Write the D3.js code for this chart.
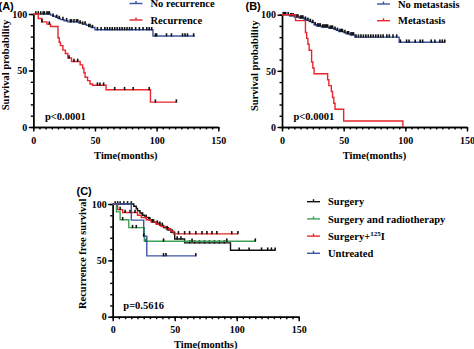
<!DOCTYPE html>
<html>
<head>
<meta charset="utf-8">
<script src="https://cdn.jsdelivr.net/npm/d3@7"></script>
<style>
  body { margin: 0; background: #fff; }
  svg { display: block; }
</style>
</head>
<body>
<svg id="fig" width="474" height="349"></svg>
<script>
// Kaplan-Meier steps: [time (months), survival %], plus last follow-up time and censored times

// (A) recurrence
const noRecurSteps = [[0,100],[14,99],[16,98],[18,97],[20,96],[22,95],[25,94],[28,93],[37,92],[40,91],[43,90],[45,89],[47,88],[50,86],[97,80.5]];
const noRecurEnd = 131;
const noRecurCens = [2,4,6,8,9,11,12,13,16,19,21,24,27,30,31,33,35,36,38,40,42,45,46,48,52,55,58,60,62,64,66,68,70,72,74,76,78,80,83,86,89,92,94,96,99,100,108,112,121,123,125,130];
const recurSteps = [[0,100],[4,96],[7,93],[11,91],[14,89],[20,79],[21,75],[22,72],[24,68],[26,65],[28,61],[31,58],[38,55],[40,52],[41,48],[42,44],[44,41],[46,38],[48,37],[59,33],[95,22]];
const recurEnd = 116;
const recurCens = [7,13,29,33,36,52,54,57,66,74,81,94,99,116];

// (B) metastasis
const noMetaSteps = [[0,100],[6,99],[10,98],[14,97],[18,96],[20,95],[22,94],[24,93],[26,91],[28,90],[32,89],[38,88],[42,87],[44,86],[46,85],[50,84],[52,83],[55,82],[59,80],[95,75.5]];
const noMetaEnd = 132;
const noMetaCens = [1,2,3,5,7,8,9,11,12,13,15,16,17,19,21,23,25,27,29,30,31,33,34,35,36,37,39,40,41,43,45,47,48,49,51,53,54,56,57,58,60,62,64,66,68,70,72,74,76,78,80,82,85,87,90,93,96,101,103,108,112,114,121,124,128,130,132];
const metaSteps = [[0,100],[11,94.7],[19,84.2],[20,78.9],[21,73.7],[22,68.4],[24,57.9],[25,52.6],[26,47.4],[37,42.1],[38,36.8],[40,31.6],[41,26.3],[42,21.1],[43,15.8],[50,5.3],[98,0]];
const metaEnd = 98;
const metaCens = [];

// (C) treatment groups
const surgSteps = [[0,100],[17,98],[19,96],[20,94],[22,92],[24,90],[26,88],[29,86],[32,84],[35,83],[38,81],[41,79],[44,77],[47,75],[50,69],[58,65.5],[95,59]];
const surgEnd = 131;
const surgCens = [2,4,6,9,12,15,24,27,30,33,36,40,45,48,52,55,62,66,70,74,78,82,86,90,102,110,120,125,128,131];
const radioSteps = [[0,100],[3,93],[6,86],[13,79],[25.5,67]];
const radioEnd = 115;
const radioCens = [8,16,19,27,41,64,92,115];
const iodineSteps = [[0,100],[4,95],[8,92.5],[20,90],[23,88],[27,86],[31,84],[35,82],[39,80],[43,78],[47,76],[49,73.5]];
const iodineEnd = 101;
const iodineCens = [6,10,14,18,32,38,44,53,58,62,67,72,76,80,84,96,101];
const untreatSteps = [[0,100],[15,85.7],[25,71.4],[27.5,54]];
const untreatEnd = 67;
const untreatCens = [25,41,43,67];

const xTicks = [0, 50, 100, 150];
const yTicks = [0, 50, 100];

const BLUE = "#3b55a3", RED = "#e8262c", GREEN = "#3aa152", BLACK = "#111";
const serif = "'Liberation Serif','Times New Roman',serif";
const sans = "'Liberation Sans',Arial,sans-serif";

const svg = d3.select("#fig");

function valueAt(steps, t) {
  let v = steps[0][1];
  steps.forEach(s => { if (s[0] <= t) v = s[1]; });
  return v;
}

function panel(cfg) {
  const x = d3.scaleLinear().domain([0, 150]).range([cfg.x0, cfg.x1]);
  const y = d3.scaleLinear().domain([0, 100]).range([cfg.yb, cfg.yt]);
  const g = svg.append("g");

  // minor ticks
  g.append("g").attr("transform", `translate(0,${cfg.yb})`)
    .call(d3.axisBottom(x).tickValues(d3.range(0, 151, 5)).tickSize(2.5).tickSizeOuter(0).tickFormat(""));
  g.append("g").attr("transform", `translate(${cfg.x0},0)`)
    .call(d3.axisLeft(y).tickValues(d3.range(0, 101, 10)).tickSize(2.5).tickSizeOuter(0).tickFormat(""));

  // major ticks + labels
  const xa = g.append("g").attr("transform", `translate(0,${cfg.yb})`)
    .call(d3.axisBottom(x).tickValues(xTicks).tickSize(4.5).tickSizeOuter(0).tickPadding(5));
  const ya = g.append("g").attr("transform", `translate(${cfg.x0},0)`)
    .call(d3.axisLeft(y).tickValues(yTicks).tickSize(4.5).tickSizeOuter(0).tickPadding(1.5));
  g.selectAll(".domain, .tick line").attr("stroke", "#000").attr("stroke-width", 1.4);
  g.selectAll(".tick text").attr("font-family", serif).attr("font-weight", "bold")
    .attr("font-size", 10).attr("fill", "#000");

  // curves
  const line = d3.line().curve(d3.curveStepAfter).x(d => x(d[0])).y(d => y(d[1]));
  cfg.series.forEach(s => {
    const pts = s.steps.concat([[s.end, s.steps[s.steps.length - 1][1]]]);
    g.append("path").datum(pts).attr("d", line)
      .attr("fill", "none").attr("stroke", s.color).attr("stroke-width", 1.4);
    g.selectAll(null).data(s.cens).enter().append("line")
      .attr("x1", d => x(d)).attr("x2", d => x(d))
      .attr("y1", d => y(valueAt(s.steps, d)) - 2.8)
      .attr("y2", d => y(valueAt(s.steps, d)) + 0.5)
      .attr("stroke", BLACK).attr("stroke-width", 1.6);
  });

  // titles
  g.append("text").attr("x", cfg.labX).attr("y", cfg.labY)
    .attr("font-family", sans).attr("font-weight", "bold").attr("font-size", 11).text(cfg.label);
  g.append("text").attr("transform", `translate(${cfg.ytX},${(cfg.yb + cfg.yt) / 2 + cfg.ytDy}) rotate(-90)`)
    .attr("text-anchor", "middle").attr("dy", "0.35em")
    .attr("font-family", serif).attr("font-weight", "bold").attr("font-size", 10.5).text(cfg.yTitle);
  g.append("text").attr("x", (cfg.x0 + cfg.x1) / 2 + cfg.xtDx).attr("y", cfg.yb + 28)
    .attr("text-anchor", "middle").attr("dy", "0.35em")
    .attr("font-family", serif).attr("font-weight", "bold").attr("font-size", 10.5).text("Time(months)");
  g.append("text").attr("x", cfg.pX).attr("y", cfg.pY)
    .attr("font-family", serif).attr("font-weight", "bold").attr("font-size", 10.5).text(cfg.pText);

  // legend
  cfg.series.forEach((s, i) => {
    const ly = cfg.legY + i * cfg.legStep[i];
    const lg = g.append("g");
    lg.append("line").attr("x1", cfg.legX).attr("x2", cfg.legX + 13).attr("y1", ly).attr("y2", ly)
      .attr("stroke", s.color).attr("stroke-width", 1.4);
    lg.append("line").attr("x1", cfg.legX + 6.5).attr("x2", cfg.legX + 6.5).attr("y1", ly - 2.5).attr("y2", ly)
      .attr("stroke", s.color).attr("stroke-width", 1.4);
    const t = lg.append("text").attr("x", cfg.legX + 21).attr("y", ly + 3.6)
      .attr("font-family", serif).attr("font-weight", "bold").attr("font-size", 10.5);
    if (s.sup) {
      t.append("tspan").text(s.name);
      t.append("tspan").attr("dy", -4).attr("font-size", 7).text(s.sup);
      t.append("tspan").attr("dy", 4).text(s.tail);
    } else {
      t.text(s.name);
    }
  });
}

panel({
  x0: 33.3, x1: 218.3, yb: 127, yt: 14,
  label: "(A)", labX: -1.5, labY: 10,
  yTitle: "Survival probability", ytX: 5.5, ytDy: -5.5, xtDx: 0,
  pText: "p<0.0001", pX: 45, pY: 119.5,
  legX: 129.5, legY: 3.5, legStep: [16.5, 16.5],
  series: [
    { name: "No recurrence", color: BLUE, steps: noRecurSteps, end: noRecurEnd, cens: noRecurCens },
    { name: "Recurrence", color: RED, steps: recurSteps, end: recurEnd, cens: recurCens }
  ]
});

panel({
  x0: 282, x1: 467, yb: 127, yt: 14.7,
  label: "(B)", labX: 245.5, labY: 10,
  yTitle: "Survival probability", ytX: 254, ytDy: -5, xtDx: 0,
  pText: "p<0.0001", pX: 293.5, pY: 119.5,
  legX: 377, legY: 4, legStep: [16.7, 16.7],
  series: [
    { name: "No metastasis", color: BLUE, steps: noMetaSteps, end: noMetaEnd, cens: noMetaCens },
    { name: "Metastasis", color: RED, steps: metaSteps, end: metaEnd, cens: metaCens }
  ]
});

panel({
  x0: 112.7, x1: 298.7, yb: 316.7, yt: 204,
  label: "(C)", labX: 76.5, labY: 195,
  yTitle: "Recurrence free survival", ytX: 82, ytDy: -6.5, xtDx: 0,
  pText: "p=0.5616", pX: 123.3, pY: 308.5,
  legX: 307, legY: 201.7, legStep: [17.2, 17.2, 17.2, 17.2],
  series: [
    { name: "Surgery", color: BLACK, steps: surgSteps, end: surgEnd, cens: surgCens },
    { name: "Surgery and radiotherapy", color: GREEN, steps: radioSteps, end: radioEnd, cens: radioCens },
    { name: "Surgery+", sup: "125", tail: "I", color: RED, steps: iodineSteps, end: iodineEnd, cens: iodineCens },
    { name: "Untreated", color: BLUE, steps: untreatSteps, end: untreatEnd, cens: untreatCens }
  ]
});
</script>
</body>
</html>
